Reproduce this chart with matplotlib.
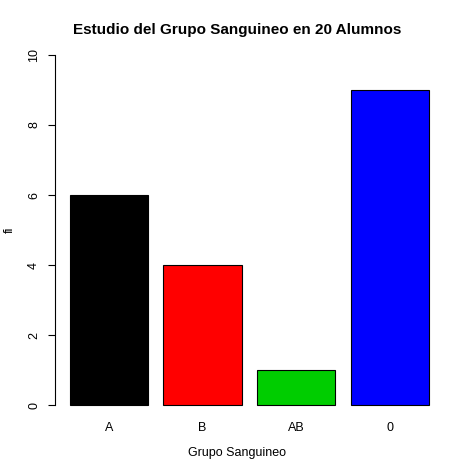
import matplotlib
matplotlib.use("Agg")
import matplotlib.pyplot as plt
plt.rcParams['font.family'] = ['Liberation Sans', 'DejaVu Sans']

categories = ["A", "B", "AB", "0"]
values = [6, 4, 1, 9]
colors = ["black", "red", "#00CD00", "blue"]

fig = plt.figure(figsize=(4.74, 4.74), dpi=100)
ax = fig.add_axes([0.117, 0.116, 0.818, 0.7975])
pos = [0.7 + 1.2 * i for i in range(4)]
ax.bar(pos, values, width=1.0, color=colors, edgecolor="black", linewidth=0.8)
ax.set_xlim(0.016, 4.984)
ax.set_ylim(-0.4, 10.4)
for s in ["top", "right", "bottom"]:
    ax.spines[s].set_visible(False)
ax.spines["left"].set_bounds(0, 10)
ax.set_yticks([0, 2, 4, 6, 8, 10])
ax.set_yticklabels(["0", "2", "4", "6", "8", "10"], rotation=90, va="center", fontsize=9)
ax.set_xticks(pos)
ax.set_xticklabels(categories, fontsize=9)
ax.tick_params(axis="x", length=0, pad=2)
ax.tick_params(axis="y", length=5, pad=6)
fig.text(0.5, 1 - 453 / 474, "Grupo Sanguineo", ha="center", va="center", fontsize=9)
fig.text(10 / 474, 1 - 230 / 474, "fi", ha="center", va="center", rotation=90, fontsize=9)
fig.text(0.5, 1 - 30 / 474, "Estudio del Grupo Sanguineo en 20 Alumnos", ha="center", va="center",
         fontsize=11, fontweight="bold")
fig.savefig("out.png", dpi=100)
